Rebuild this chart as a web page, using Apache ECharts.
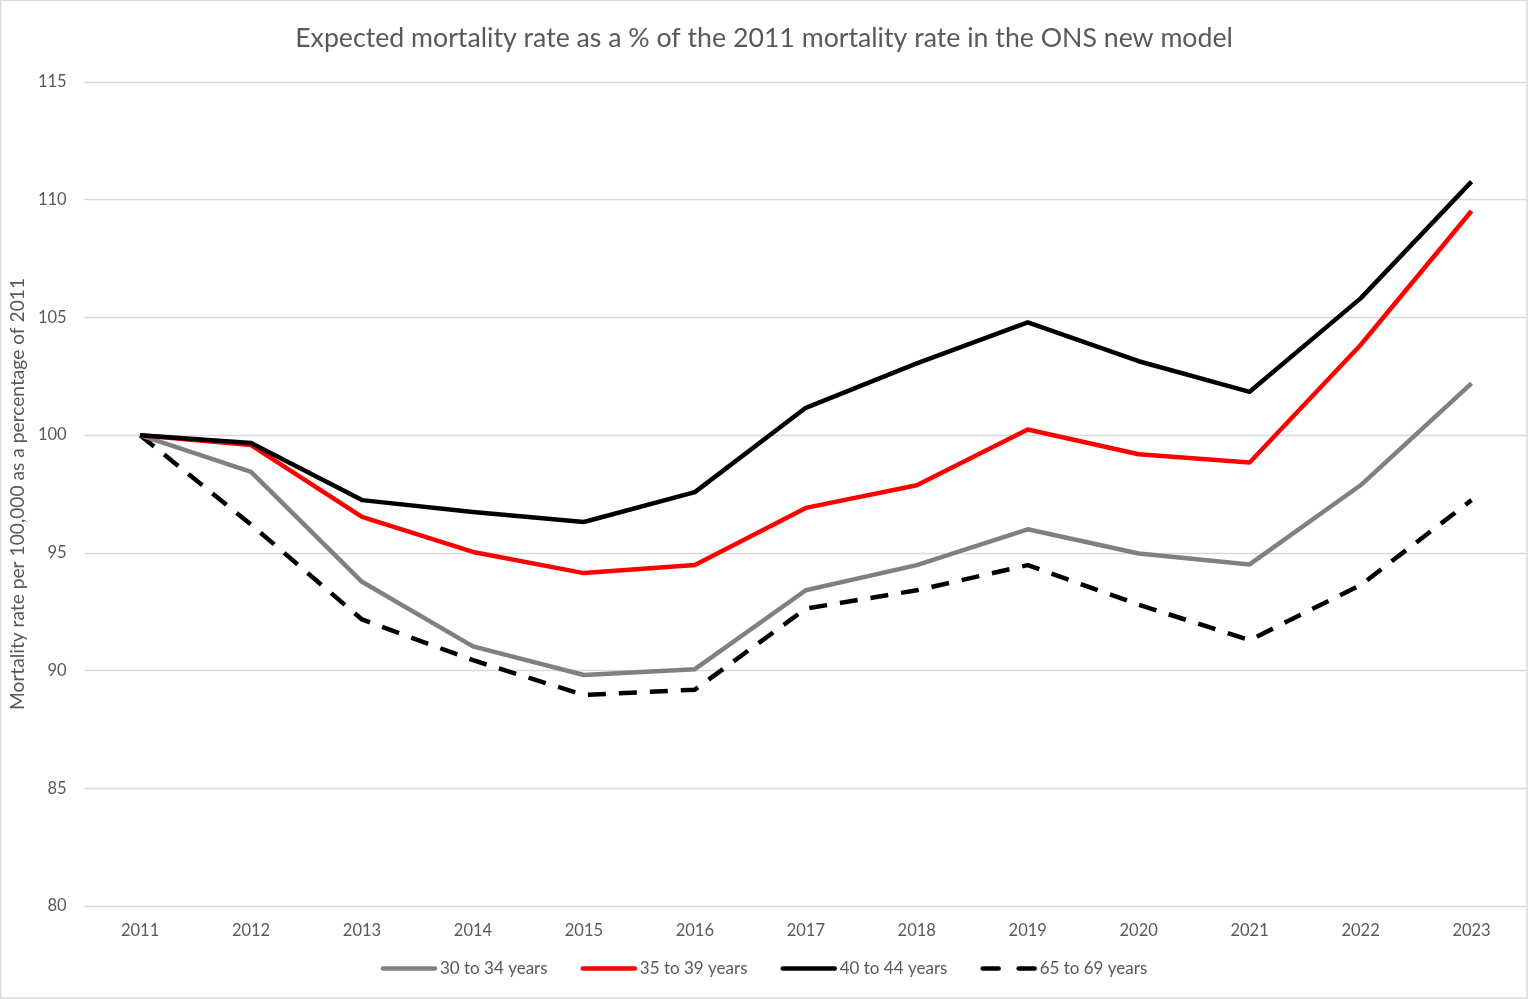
<!DOCTYPE html>
<html>
<head>
<meta charset="utf-8">
<script src="https://cdn.jsdelivr.net/npm/echarts@6/dist/echarts.min.js"></script>
<style>
html,body{margin:0;padding:0;background:#fff;}
#chart{width:1528px;height:999px;}
</style>
</head>
<body>
<div id="chart"></div>
<script>
const years = ['2011','2012','2013','2014','2015','2016','2017','2018','2019','2020','2021','2022','2023'];
const age30to34 = [100, 98.44, 93.77, 91.03, 89.81, 90.06, 93.41, 94.48, 96.0, 94.97, 94.51, 97.87, 102.2];
const age35to39 = [100, 99.58, 96.53, 95.04, 94.14, 94.48, 96.91, 97.87, 100.24, 99.19, 98.84, 103.83, 109.52];
const age40to44 = [100, 99.67, 97.24, 96.74, 96.31, 97.58, 101.16, 103.05, 104.79, 103.14, 101.84, 105.81, 110.77];
const age65to69 = [100, 96.2, 92.17, 90.44, 88.96, 89.19, 92.63, 93.41, 94.48, 92.8, 91.29, 93.63, 97.24];
const seriesNames = ['30 to 34 years','35 to 39 years','40 to 44 years','65 to 69 years'];
const yTicks = {min: 80, max: 115, interval: 5};

const FONT = 'Lato';
const TXT = '#595959';
const chart = echarts.init(document.getElementById('chart'), null, {renderer: 'canvas'});

function lineSeries(name, data, color, dashed) {
  return {
    name: name,
    type: 'line',
    data: data,
    symbol: 'none',
    showSymbol: false,
    smooth: false,
    lineStyle: {color: color, width: 4.5, type: dashed ? [18, 13] : 'solid', cap: 'butt', join: 'round'},
    itemStyle: {color: color},
    emphasis: {disabled: true},
    z: dashed ? 1 : 2
  };
}

chart.setOption({
  animation: false,
  backgroundColor: '#ffffff',
  title: {
    text: 'Expected mortality rate as a % of the 2011 mortality rate in the ONS new model',
    left: 'center',
    top: 20,
    textStyle: {fontFamily: FONT, fontSize: 26.7, fontWeight: 'normal', color: TXT}
  },
  graphic: [{
    type: 'rect',
    shape: {x: 0.5, y: 0.5, width: 1526.5, height: 997.5},
    style: {fill: 'none', stroke: '#d9d9d9', lineWidth: 1.5},
    silent: true
  }],
  legend: {
    bottom: 17,
    left: 'center',
    itemWidth: 52,
    itemHeight: 6,
    itemGap: 33,
    itemStyle: {opacity: 0},
    lineStyle: {width: 4.5, cap: 'round'},
    textStyle: {fontFamily: FONT, fontSize: 17, color: TXT},
    data: [
      {name: seriesNames[0]},
      {name: seriesNames[1]},
      {name: seriesNames[2]},
      {name: seriesNames[3], lineStyle: {type: [16, 20], width: 4.5, cap: 'round'}}
    ]
  },
  grid: {left: 83, right: 1, top: 82, bottom: 93, containLabel: false},
  xAxis: {
    type: 'category',
    data: years,
    boundaryGap: true,
    axisLine: {show: false},
    axisTick: {show: false},
    axisLabel: {fontFamily: FONT, fontSize: 16.5, color: TXT, margin: 16}
  },
  yAxis: {
    type: 'value',
    min: yTicks.min,
    max: yTicks.max,
    interval: yTicks.interval,
    name: 'Mortality rate per 100,000 as a percentage of 2011',
    nameLocation: 'middle',
    nameGap: 50,
    nameTextStyle: {fontFamily: FONT, fontSize: 19.2, color: TXT},
    axisLine: {show: false},
    axisTick: {show: false},
    axisLabel: {fontFamily: FONT, fontSize: 16.5, color: TXT, margin: 18},
    splitLine: {lineStyle: {color: '#d9d9d9', width: 1.3}}
  },
  series: [
    lineSeries(seriesNames[0], age30to34, '#808080', false),
    lineSeries(seriesNames[1], age35to39, '#ff0000', false),
    lineSeries(seriesNames[2], age40to44, '#000000', false),
    lineSeries(seriesNames[3], age65to69, '#000000', true)
  ]
});
</script>
</body>
</html>
